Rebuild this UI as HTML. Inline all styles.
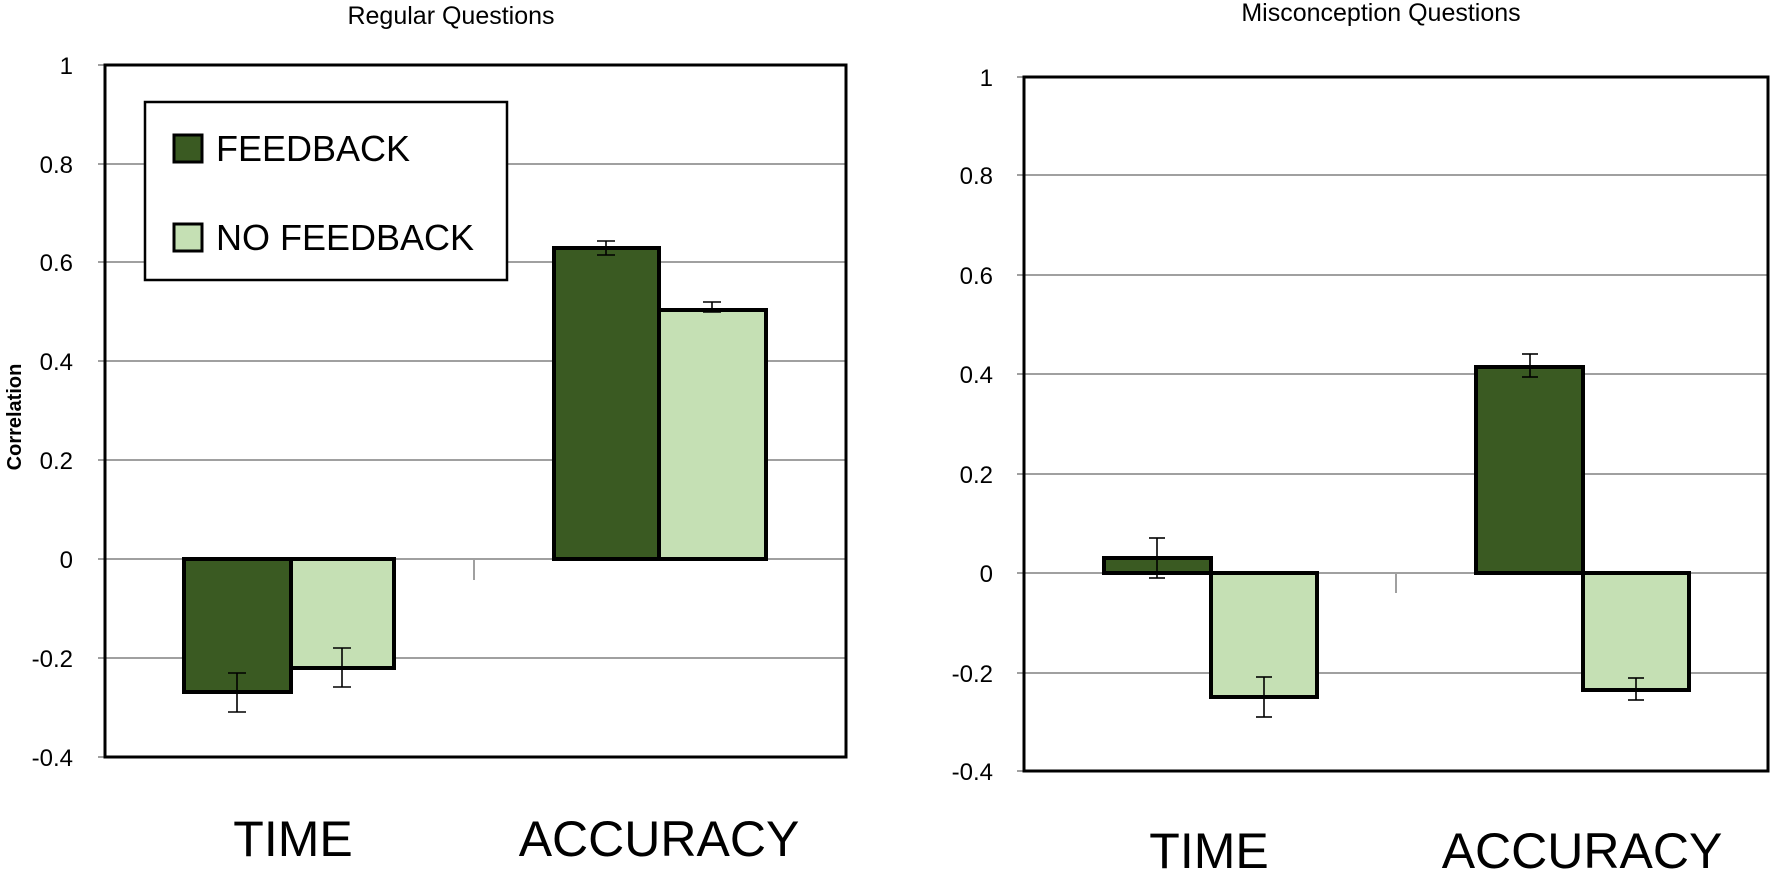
<!DOCTYPE html><html><head><style>body{margin:0;background:#fff}svg{display:block}text{font-family:"Liberation Sans",sans-serif}</style></head><body>
<svg width="1772" height="872" viewBox="0 0 1772 872">
<!-- LEFT -->
<text x="451" y="24" font-size="25" text-anchor="middle">Regular Questions</text>
<g stroke="#a0a0a0" stroke-width="2">
<line x1="98" y1="164" x2="846" y2="164"/><line x1="98" y1="262" x2="846" y2="262"/><line x1="98" y1="361" x2="846" y2="361"/><line x1="98" y1="460" x2="846" y2="460"/><line x1="98" y1="559" x2="846" y2="559"/><line x1="98" y1="658" x2="846" y2="658"/>
<line x1="98" y1="65" x2="105" y2="65"/><line x1="98" y1="757" x2="105" y2="757"/>
<line x1="474" y1="559" x2="474" y2="580"/><line x1="846" y1="559" x2="846" y2="580"/>
</g>
<rect x="105" y="65" width="741" height="692" fill="none" stroke="#000" stroke-width="3"/>
<g font-size="24" text-anchor="end">
<text x="73" y="74">1</text><text x="73" y="173">0.8</text><text x="73" y="271">0.6</text><text x="73" y="370">0.4</text><text x="73" y="469">0.2</text><text x="73" y="568">0</text><text x="73" y="667">-0.2</text><text x="73" y="766">-0.4</text>
</g>
<text transform="translate(21,417) rotate(-90)" font-size="20" font-weight="bold" text-anchor="middle">Correlation</text>
<g stroke="#000" stroke-width="4">
<rect x="184" y="559" width="107" height="133" fill="#3a5a22"/>
<rect x="291" y="559" width="103" height="109" fill="#c5e0b4"/>
<rect x="554" y="248" width="105" height="311" fill="#3a5a22"/>
<rect x="659" y="310" width="107" height="249" fill="#c5e0b4"/>
</g>
<g stroke="#000" stroke-width="1.6">
<line x1="237" y1="673" x2="237" y2="712"/><line x1="228" y1="673" x2="246" y2="673"/><line x1="228" y1="712" x2="246" y2="712"/>
<line x1="342" y1="648" x2="342" y2="687"/><line x1="333" y1="648" x2="351" y2="648"/><line x1="333" y1="687" x2="351" y2="687"/>
<line x1="606" y1="241" x2="606" y2="255"/><line x1="597" y1="241" x2="615" y2="241"/><line x1="597" y1="255" x2="615" y2="255"/>
<line x1="712" y1="302" x2="712" y2="312"/><line x1="703" y1="302" x2="721" y2="302"/><line x1="703" y1="312" x2="721" y2="312"/>
</g>
<rect x="145" y="102" width="362" height="178" fill="#fff" stroke="#000" stroke-width="2.5"/>
<rect x="174" y="135" width="28" height="27" fill="#3a5a22" stroke="#000" stroke-width="3"/>
<rect x="174" y="224" width="28" height="27" fill="#c5e0b4" stroke="#000" stroke-width="3"/>
<text x="216" y="161" font-size="36">FEEDBACK</text>
<text x="216" y="250" font-size="36">NO FEEDBACK</text>
<text x="293" y="856" font-size="50" text-anchor="middle">TIME</text>
<text x="659" y="856" font-size="50" text-anchor="middle">ACCURACY</text>
<!-- RIGHT -->
<text x="1381" y="21" font-size="25" text-anchor="middle">Misconception Questions</text>
<g stroke="#a0a0a0" stroke-width="2">
<line x1="1017" y1="175" x2="1769" y2="175"/><line x1="1017" y1="275" x2="1769" y2="275"/><line x1="1017" y1="374" x2="1769" y2="374"/><line x1="1017" y1="474" x2="1769" y2="474"/><line x1="1017" y1="573" x2="1769" y2="573"/><line x1="1017" y1="673" x2="1769" y2="673"/>
<line x1="1017" y1="77" x2="1024" y2="77"/><line x1="1017" y1="771" x2="1024" y2="771"/>
<line x1="1396" y1="573" x2="1396" y2="593"/>
</g>
<rect x="1024" y="77" width="744" height="694" fill="none" stroke="#000" stroke-width="3"/>
<g font-size="24" text-anchor="end">
<text x="993" y="86">1</text><text x="993" y="184">0.8</text><text x="993" y="284">0.6</text><text x="993" y="383">0.4</text><text x="993" y="483">0.2</text><text x="993" y="582">0</text><text x="993" y="682">-0.2</text><text x="993" y="780">-0.4</text>
</g>
<g stroke="#000" stroke-width="4">
<rect x="1104" y="558" width="107" height="15" fill="#3a5a22"/>
<rect x="1211" y="573" width="106" height="124" fill="#c5e0b4"/>
<rect x="1476" y="367" width="107" height="206" fill="#3a5a22"/>
<rect x="1583" y="573" width="106" height="117" fill="#c5e0b4"/>
</g>
<g stroke="#000" stroke-width="1.6">
<line x1="1157" y1="538" x2="1157" y2="578"/><line x1="1149" y1="538" x2="1165" y2="538"/><line x1="1149" y1="578" x2="1165" y2="578"/>
<line x1="1264" y1="677" x2="1264" y2="717"/><line x1="1256" y1="677" x2="1272" y2="677"/><line x1="1256" y1="717" x2="1272" y2="717"/>
<line x1="1530" y1="354" x2="1530" y2="377"/><line x1="1522" y1="354" x2="1538" y2="354"/><line x1="1522" y1="377" x2="1538" y2="377"/>
<line x1="1636" y1="678" x2="1636" y2="700"/><line x1="1628" y1="678" x2="1644" y2="678"/><line x1="1628" y1="700" x2="1644" y2="700"/>
</g>
<text x="1209" y="868" font-size="50" text-anchor="middle">TIME</text>
<text x="1582" y="868" font-size="50" text-anchor="middle">ACCURACY</text>
</svg></body></html>
